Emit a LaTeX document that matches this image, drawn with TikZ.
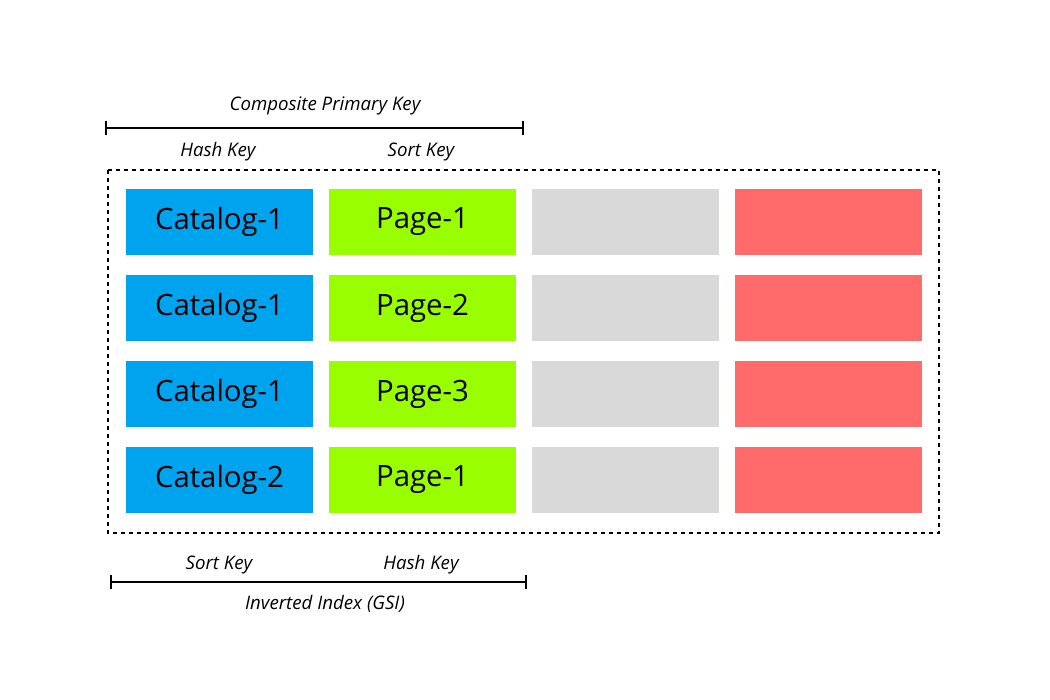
\documentclass[tikz,border=0pt]{standalone}
\usepackage{fontspec}
\setmainfont{Open Sans}
\definecolor{cblue}{HTML}{00A3EE}
\definecolor{cgreen}{HTML}{99FF00}
\definecolor{cgray}{HTML}{D9D9D9}
\definecolor{cred}{HTML}{FF6B6B}
\begin{document}
\begin{tikzpicture}[x=0.75pt,y=-0.75pt,
  cell/.style={minimum width=140.25pt,minimum height=49.5pt,inner sep=0pt,font=\fontsize{22}{26}\selectfont},
  lbl/.style={font=\itshape\fontsize{14}{17}\selectfont},
  brk/.style={line width=1pt}]
\useasboundingbox (0,0) rectangle (1050,700);
\draw[dashed,line width=1pt] (108,170) rectangle (939,533);
\foreach \r/\y/\c/\p in {1/222/Catalog-1/Page-1,2/308/Catalog-1/Page-2,3/394/Catalog-1/Page-3,4/479.5/Catalog-2/Page-1}{
  \node[cell,fill=cblue] (a\r) at (219.5,\y) {\c};
  \node[cell,fill=cgreen] (b\r) at (422.5,\y) {\p};
  \node[cell,fill=cgray] (c\r) at (625.5,\y) {};
  \node[cell,fill=cred] (d\r) at (828.5,\y) {};
}
\coordinate (t1) at (106,128); \coordinate (t2) at (523,128);
\draw[brk] (t1) -- (t2);
\draw[brk] (106,121) -- (106,135); \draw[brk] (523,121) -- (523,135);
\node[lbl] (cpk) at (325,106) {Composite Primary Key};
\node[lbl] (hk1) at (218,152) {Hash Key};
\node[lbl] (sk1) at (421,152) {Sort Key};
\coordinate (u1) at (111,582); \coordinate (u2) at (526,582);
\draw[brk] (u1) -- (u2);
\draw[brk] (111,575) -- (111,589); \draw[brk] (526,575) -- (526,589);
\node[lbl] (sk2) at (219,565) {Sort Key};
\node[lbl] (hk2) at (421,565) {Hash Key};
\node[lbl] (gsi) at (325,604) {Inverted Index (GSI)};
\end{tikzpicture}
\end{document}
